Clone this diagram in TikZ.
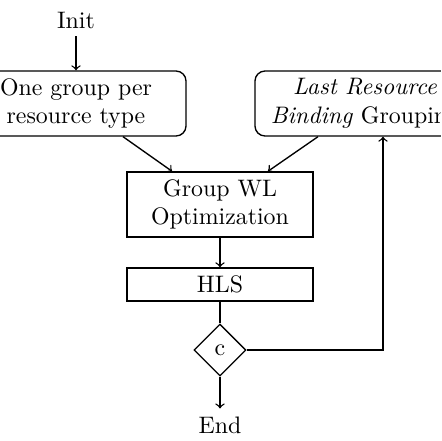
\documentclass[tikz,border=0pt]{standalone}
\usetikzlibrary{shapes.geometric}
\begin{document}
\begin{tikzpicture}[x=0.4444pt,y=-0.4444pt,
  every node/.style={font=\fontsize{10.6}{12.7}\selectfont},
  line width=0.6pt,
  roundbox/.style={draw,rounded corners=4.5pt,align=center,inner sep=0pt,minimum width=97.8pt,minimum height=28.9pt},
  sqbox/.style={draw,align=center,inner sep=0pt,minimum width=82.7pt},
  decision/.style={draw,diamond,inner sep=0pt,minimum size=23.1pt},
  plain/.style={inner sep=3.33pt},
  >=to]
\useasboundingbox (0,0) rectangle (441,441);
\clip (0,0) rectangle (441,441);
\node[plain] (init) at (76,20) {Init};
\node[roundbox] (left) at (76,103.5) {One group per\\resource type};
\node[roundbox] (right) at (365,103.5) {\textit{Last Resource}\\\textit{Binding} Grouping};
\node[sqbox,minimum height=28.9pt] (gwl) at (220,204.5) {Group WL\\Optimization};
\node[sqbox,minimum height=14.7pt] (hls) at (220,284.5) {HLS};
\node[decision] (c) at (220,350) {c};
\node[plain] (end) at (220,425) {End};
\draw[->] (init) -- (left);
\draw[->] ([xshift=20.9pt]left.south) -- ([xshift=-21.3pt]gwl.north);
\draw[->] ([xshift=-20.9pt]right.south) -- ([xshift=21.3pt]gwl.north);
\draw[->] (gwl) -- (hls);
\draw (hls) -- (c);
\draw[->] (c) -- (end);
\draw[->] (c.east) -| ([xshift=8pt]right.south);
\end{tikzpicture}
\end{document}
